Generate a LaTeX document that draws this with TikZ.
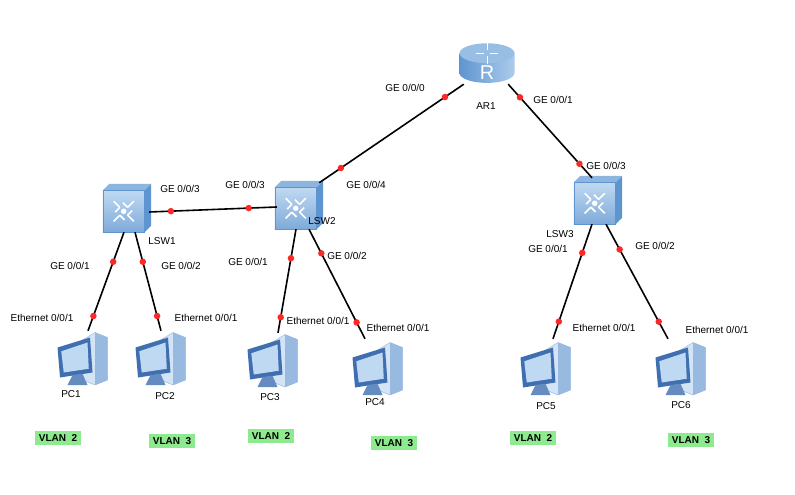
\documentclass[tikz,border=0pt]{standalone}
\usepackage{fontspec}
\setmainfont{Liberation Sans}
\usetikzlibrary{calc}
\definecolor{swA}{HTML}{BFD9F2}
\definecolor{swB}{HTML}{5E95D0}
\definecolor{pcA}{HTML}{7FA8D8}
\definecolor{pcB}{HTML}{3F6FB0}
\definecolor{vgreen}{HTML}{8EEA8E}
\begin{document}
\begin{tikzpicture}[x=1pt,y=-1pt,
  lbl/.style={font=\fontsize{10}{11}\selectfont,inner sep=0pt},
  vlan/.style={font=\fontsize{10}{11}\selectfont\bfseries,fill=vgreen,inner xsep=4pt,inner ysep=3pt,minimum height=14pt},
  dot/.style={circle,fill=red!85!white,inner sep=0pt,minimum size=6.5pt},
  link/.style={line width=1.6pt},
  pcnode/.style={inner sep=0pt,minimum width=44pt,minimum height=54pt},
  swnode/.style={inner sep=0pt,minimum width=48pt,minimum height=48pt},
  rtnode/.style={inner sep=0pt,minimum width=54pt,minimum height=44pt},
  pc/.pic={
    \begin{scope}[scale=1.25]
    \fill[swA!70!white,draw=pcB!60,line width=0.3pt] (2,-16) -- (12,-22) -- (22,-18) -- (22,16) -- (12,20) -- (2,16) -- cycle;
    \fill[pcA!80!white] (12,-22) -- (22,-18) -- (22,16) -- (12,20) -- cycle;
    \fill[pcB] (-18,-10) -- (8,-18) -- (10,10) -- (-16,14) -- cycle;
    \fill[swA] (-15,-7) -- (6,-14) -- (7,7) -- (-13,10) -- cycle;
    \fill[pcB!80] (-6,12) -- (2,11) -- (6,20) -- (-10,20) -- cycle;
    \end{scope}
  },
  sw/.pic={
    \begin{scope}[scale=1.1]
    \fill[swB!70!white] (-22,-16) -- (-16,-22) -- (22,-22) -- (16,-16) -- cycle;
    \fill[swB] (16,-16) -- (22,-22) -- (22,16) -- (16,22) -- cycle;
    \shade[top color=swA,bottom color=swB!80!white,draw=swB] (-22,-16) rectangle (16,22);
    \foreach \a in {45,135,225,315}{\draw[white,line width=1.6pt,rotate around={\a:(-3,3)}] (2,3) -- (10,3) (2,3) -- (2,-3);}
    \fill[white] (-3,3) circle (2.5);
    \end{scope}
  },
  rt/.pic={
    \begin{scope}[scale=1.1]
    \shade[left color=swB,right color=swA!80!swB] (-25,-8) -- (-25,10) arc[start angle=180,end angle=0,x radius=25,y radius=9] -- (25,-8) -- cycle;
    \fill[swA!60!swB] (0,-8) ellipse (25 and 9);
    \node[white,font=\fontsize{20}{20}\selectfont] at (0,10) {R};
    \foreach \a in {0,90,180,270}{\draw[white,line width=0.9pt,rotate around={\a:(0,-8)}] (3,-8) -- (10,-8);}
    \end{scope}
  }]
\useasboundingbox (0,0) rectangle (795,495);
\fill[white] (0,0) rectangle (795,495);
% devices
\node[rtnode] (ar1) at (487,62) {};
\pic at (487,62) {rt};
\node[lbl] at (486,106) {AR1};
\node[swnode] (lsw1) at (127,208) {};
\pic at (127,208) {sw};
\node[lbl] at (162,241) {LSW1};
\node[swnode] (lsw2) at (299,205) {};
\pic at (299,205) {sw};
\node[lbl] at (322,221) {LSW2};
\node[swnode] (lsw3) at (598,200) {};
\pic at (598,200) {sw};
\node[lbl] at (560,234) {LSW3};
\foreach \n/\x/\y/\lx/\ly in {1/80/360/71/394, 2/158/360/165/396, 3/270/362/270/397, 4/375/370/375/402, 5/543/370/546/406, 6/678/370/681/405}{
  \node[pcnode] (pc\n) at (\x,\y) {};
  \pic at (\x,\y) {pc};
  \node[lbl] at (\lx,\ly) {PC\n};
}
% links
\draw[link] ($(ar1.south west)+(4,0)$) -- node[dot,pos=0.13]{} node[dot,pos=0.85]{} ($(lsw2.north east)+(-4,2)$);
\draw[link] ($(ar1.south east)+(-6,0)$) -- node[dot,pos=0.14]{} node[dot,pos=0.85]{} ($(lsw3.north)+(-6,2)$);
\draw[link] ($(lsw1.east)+(-2,4)$) -- node[dot,pos=0.17]{} node[dot,pos=0.78]{} ($(lsw2.west)+(2,2)$);
\draw[link] ($(lsw1.south)+(-3,0)$) -- node[dot,pos=0.3]{} node[dot,pos=0.85]{} ($(pc1.north)+(8,-2)$);
\draw[link] ($(lsw1.south)+(8,0)$) -- node[dot,pos=0.3]{} node[dot,pos=0.85]{} ($(pc2.north)+(3,-2)$);
\draw[link] ($(lsw2.south)+(-3,0)$) -- node[dot,pos=0.28]{} node[dot,pos=0.85]{} ($(pc3.north)+(8,-2)$);
\draw[link] ($(lsw2.south)+(10,0)$) -- node[dot,pos=0.22]{} node[dot,pos=0.85]{} ($(pc4.north)+(-10,-4)$);
\draw[link] ($(lsw3.south)+(-6,0)$) -- node[dot,pos=0.25]{} node[dot,pos=0.85]{} ($(pc5.north)+(10,-4)$);
\draw[link] ($(lsw3.south)+(8,0)$) -- node[dot,pos=0.22]{} node[dot,pos=0.85]{} ($(pc6.north)+(-10,-4)$);
% port labels
\foreach \x/\y/\t in {405/88/{GE 0/0/0}, 366/185/{GE 0/0/4}, 553/100/{GE 0/0/1}, 606/166/{GE 0/0/3},
  180/189/{GE 0/0/3}, 245/185/{GE 0/0/3}, 70/266/{GE 0/0/1}, 181/266/{GE 0/0/2}, 248/262/{GE 0/0/1}, 347/256/{GE 0/0/2},
  548/249/{GE 0/0/1}, 655/246/{GE 0/0/2},
  42/318/{Ethernet 0/0/1}, 206/318/{Ethernet 0/0/1}, 318/321/{Ethernet 0/0/1}, 398/328/{Ethernet 0/0/1},
  604/328/{Ethernet 0/0/1}, 717/330/{Ethernet 0/0/1}}
  \node[lbl] at (\x,\y) {\t};
% VLANs
\foreach \x/\y/\v in {58/438/2, 172/441/3, 271/436/2, 394/443/3, 533/438/2, 691/440/3}
  \node[vlan] at (\x,\y) {VLAN\ \ \v};
\end{tikzpicture}
\end{document}
